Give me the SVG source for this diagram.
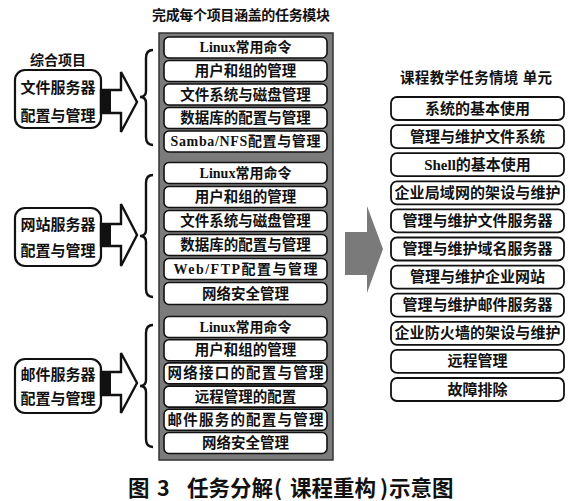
<svg xmlns="http://www.w3.org/2000/svg" width="570" height="501" viewBox="0 0 570 501">
<style>
.t{font-family:"Liberation Serif","Noto Sans CJK SC",serif;font-weight:bold;fill:#111;text-anchor:middle;dominant-baseline:central}
.pb{fill:#fff;stroke:#111;stroke-width:1.6}
.lb{fill:#fff;stroke:#111;stroke-width:2.2}
.rb{fill:#fff;stroke:#111;stroke-width:1.8}
.arr{fill:#fff;stroke:#111;stroke-width:2.4;stroke-linejoin:miter}
.br{fill:none;stroke:#111;stroke-width:2.4}
.cap{font-family:"Noto Sans CJK SC",sans-serif;font-weight:bold;fill:#111;dominant-baseline:central}
</style>
<rect width="570" height="501" fill="#fff"/>

<text class="t" x="241" y="15" font-size="14" textLength="178">完成每个项目涵盖的任务模块</text>
<text class="t" x="58" y="60" font-size="14">综合项目</text>
<text class="t" x="476" y="78" font-size="14.5" textLength="152">课程教学任务情境 单元</text>

<g id="panel">
<rect x="159" y="33" width="174" height="427" fill="#7b7b7b" stroke="#333" stroke-width="1.5"/>
</g>

<g id="group1">
<rect class="pb" x="164" y="37" width="163" height="21" rx="5"/><text class="t" x="245.5" y="47.5" font-size="14">Linux常用命令</text>
<rect class="pb" x="164" y="60.5" width="163" height="21" rx="5"/><text class="t" x="245.5" y="71" font-size="14.5">用户和组的管理</text>
<rect class="pb" x="164" y="84" width="163" height="21" rx="5"/><text class="t" x="245.5" y="94.5" font-size="14.5">文件系统与磁盘管理</text>
<rect class="pb" x="164" y="107.5" width="163" height="21" rx="5"/><text class="t" x="245.5" y="118" font-size="14.5">数据库的配置与管理</text>
<rect class="pb" x="164" y="131" width="163" height="21" rx="5"/><text class="t" x="245.5" y="141.5" font-size="14" textLength="150">Samba/NFS配置与管理</text>
</g>

<g id="group2">
<rect class="pb" x="164" y="162.5" width="163" height="21" rx="5"/><text class="t" x="245.5" y="173" font-size="14">Linux常用命令</text>
<rect class="pb" x="164" y="186.5" width="163" height="21" rx="5"/><text class="t" x="245.5" y="197" font-size="14.5">用户和组的管理</text>
<rect class="pb" x="164" y="210.5" width="163" height="21" rx="5"/><text class="t" x="245.5" y="221" font-size="14.5">文件系统与磁盘管理</text>
<rect class="pb" x="164" y="234.5" width="163" height="21" rx="5"/><text class="t" x="245.5" y="245" font-size="14.5">数据库的配置与管理</text>
<rect class="pb" x="164" y="258.5" width="163" height="21" rx="5"/><text class="t" x="245.5" y="269" font-size="14" textLength="144">Web/FTP配置与管理</text>
<rect class="pb" x="164" y="282.5" width="163" height="22" rx="5"/><text class="t" x="245.5" y="293.5" font-size="14.5">网络安全管理</text>
</g>

<g id="group3">
<rect class="pb" x="164" y="316.5" width="163" height="21" rx="5"/><text class="t" x="245.5" y="327" font-size="14">Linux常用命令</text>
<rect class="pb" x="164" y="339.7" width="163" height="21" rx="5"/><text class="t" x="245.5" y="350.2" font-size="14.5">用户和组的管理</text>
<rect class="pb" x="164" y="362.9" width="163" height="21" rx="5"/><text class="t" x="245.5" y="373.4" font-size="14.5" textLength="156">网络接口的配置与管理</text>
<rect class="pb" x="164" y="386.1" width="163" height="21" rx="5"/><text class="t" x="245.5" y="396.6" font-size="14.5">远程管理的配置</text>
<rect class="pb" x="164" y="409.3" width="163" height="21" rx="5"/><text class="t" x="245.5" y="419.8" font-size="14.5" textLength="156">邮件服务的配置与管理</text>
<rect class="pb" x="164" y="432.5" width="163" height="21" rx="5"/><text class="t" x="245.5" y="443" font-size="14.5">网络安全管理</text>
</g>

<g id="project1">
<rect class="lb" x="15" y="70" width="86" height="58" rx="10"/>
<text class="t" x="58" y="88" font-size="15">文件服务器</text>
<text class="t" x="58" y="116" font-size="15">配置与管理</text>
</g>
<g id="project2">
<rect class="lb" x="15" y="208" width="86" height="58" rx="10"/>
<text class="t" x="58" y="225" font-size="15">网站服务器</text>
<text class="t" x="58" y="251" font-size="15">配置与管理</text>
</g>
<g id="project3">
<rect class="lb" x="15" y="359" width="86" height="54" rx="10"/>
<text class="t" x="58" y="375" font-size="15">邮件服务器</text>
<text class="t" x="58" y="399" font-size="15">配置与管理</text>
</g>

<g id="right">
<rect class="rb" x="391" y="97" width="173" height="23" rx="6"/><text class="t" x="477.5" y="108.5" font-size="15">系统的基本使用</text>
<rect class="rb" x="391" y="125.1" width="173" height="23" rx="6"/><text class="t" x="477.5" y="136.6" font-size="15">管理与维护文件系统</text>
<rect class="rb" x="391" y="153.2" width="173" height="23" rx="6"/><text class="t" x="477.5" y="164.7" font-size="15">Shell的基本使用</text>
<rect class="rb" x="391" y="181.3" width="173" height="23" rx="6"/><text class="t" x="477.5" y="192.8" font-size="15" textLength="166">企业局域网的架设与维护</text>
<rect class="rb" x="391" y="209.4" width="173" height="23" rx="6"/><text class="t" x="477.5" y="220.9" font-size="15">管理与维护文件服务器</text>
<rect class="rb" x="391" y="237.5" width="173" height="23" rx="6"/><text class="t" x="477.5" y="249" font-size="15">管理与维护域名服务器</text>
<rect class="rb" x="391" y="265.6" width="173" height="23" rx="6"/><text class="t" x="477.5" y="277.1" font-size="15">管理与维护企业网站</text>
<rect class="rb" x="391" y="293.7" width="173" height="23" rx="6"/><text class="t" x="477.5" y="305.2" font-size="15">管理与维护邮件服务器</text>
<rect class="rb" x="391" y="321.8" width="173" height="23" rx="6"/><text class="t" x="477.5" y="333.3" font-size="15" textLength="166">企业防火墙的架设与维护</text>
<rect class="rb" x="391" y="349.9" width="173" height="23" rx="6"/><text class="t" x="477.5" y="361.4" font-size="15">远程管理</text>
<rect class="rb" x="391" y="378" width="173" height="23" rx="6"/><text class="t" x="477.5" y="389.5" font-size="15">故障排除</text>
</g>

<g id="connectors">
<path class="arr" d="M101,90 H121 V72 L137,102 L121,132 V113 H101 Z"/>
<rect x="100" y="89" width="11" height="25" fill="#111"/>
<path class="arr" d="M101,224 H121 V204 L137,235 L121,266 V246 H101 Z"/>
<rect x="100" y="223" width="11" height="24" fill="#111"/>
<path class="arr" d="M101,372 H121 V353 L137,383 L121,413 V395 H101 Z"/>
<rect x="100" y="371" width="11" height="25" fill="#111"/>
<path class="br" d="M153,50 Q146,50 146,58 V91 Q146,97 140,97 Q146,97 146,103 V137 Q146,145 153,145"/>
<path class="br" d="M153,175 Q146,175 146,183 V230 Q146,236 140,236 Q146,236 146,242 V289 Q146,297 153,297"/>
<path class="br" d="M153,325 Q146,325 146,333 V380 Q146,386 140,386 Q146,386 146,392 V439 Q146,447 153,447"/>
<polygon points="345,232 367,232 367,206 383,249 367,293 367,275 345,275" fill="#7a7a7a"/>
</g>

<text class="cap" y="486" font-size="21.5"><tspan x="128">图</tspan><tspan x="157">3</tspan><tspan x="187">任务分解</tspan><tspan x="274">(</tspan><tspan x="290">课程重构</tspan><tspan x="380">)</tspan><tspan x="389">示意图</tspan></text>
</svg>
